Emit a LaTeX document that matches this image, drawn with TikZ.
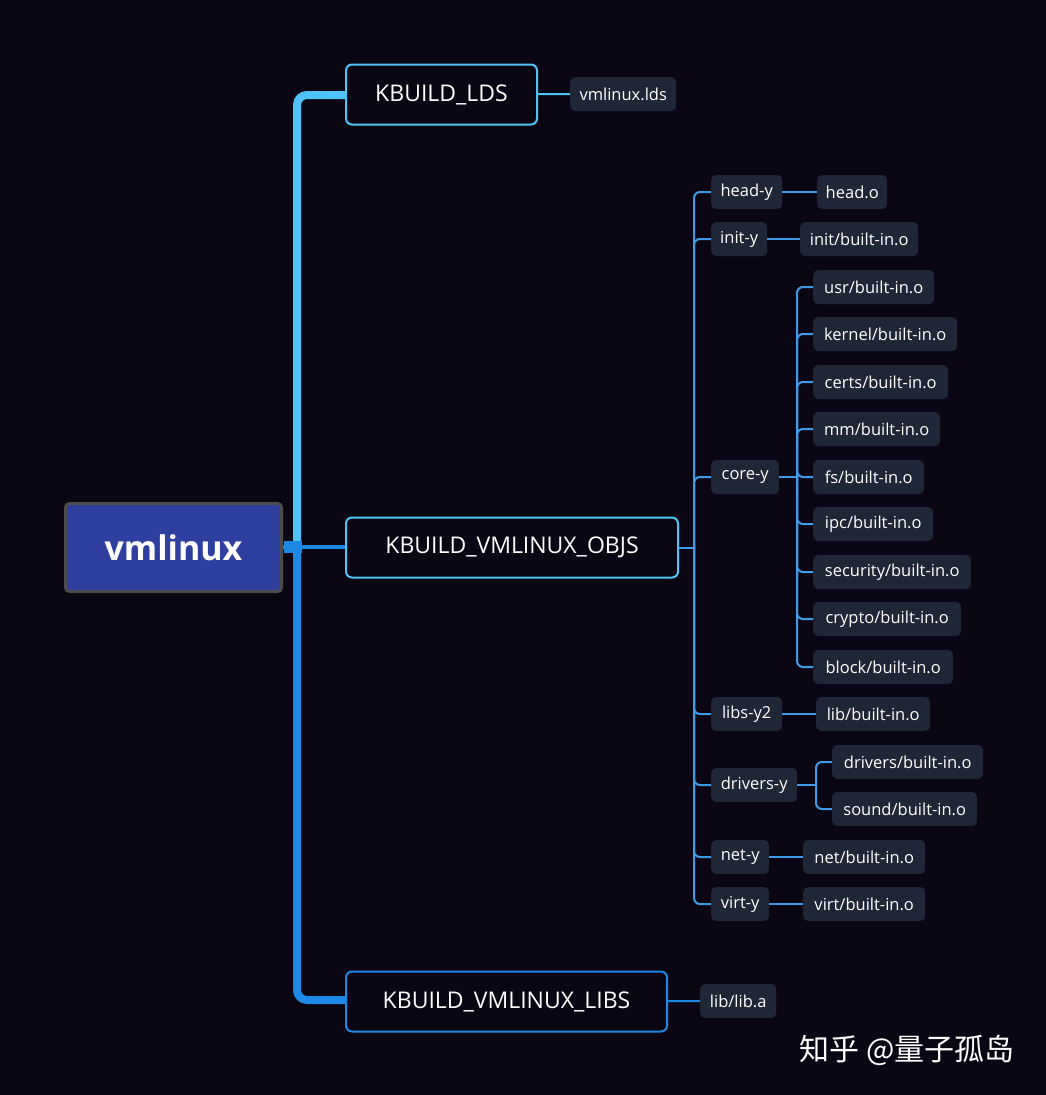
\documentclass[tikz,border=0pt]{standalone}
\usepackage{fontspec}
\setmainfont{Open Sans}
\newfontfamily\cjk{Noto Sans CJK SC}
\definecolor{bg}{HTML}{0A0614}
\definecolor{rootc}{HTML}{2F3FA0}
\definecolor{lite}{HTML}{4FC3F7}
\definecolor{deep}{HTML}{1E88E5}
\definecolor{leaf}{HTML}{1F2636}
\definecolor{lnk}{HTML}{3E9BEA}
\begin{document}
\begin{tikzpicture}[x=1pt,y=-1pt,
  leafn/.style={anchor=west,fill=leaf,rounded corners=5pt,minimum height=34pt,minimum width=#1pt,inner xsep=2pt,inner ysep=0pt,text=white,font=\fontsize{16.5}{18}\selectfont},
  lvl/.style={anchor=west,draw=#1,line width=2pt,fill=bg,rounded corners=6pt,minimum height=60pt,inner xsep=2pt,text=white,font=\fontsize{23}{25}\selectfont},
  ln/.style={draw=lnk,line width=2pt,rounded corners=6pt}]
\fill[bg] (0,0) rectangle (1046,1095);
% trunk
\draw[lite,line width=8pt,rounded corners=10pt] (345,95) -- (297,95) -- (297,547);
\draw[deep,line width=8pt,rounded corners=10pt] (297,547) -- (297,1000) -- (345,1000);
\draw[deep,line width=4pt] (282,547) -- (345,547);
\fill[deep] (284,541) rectangle (302,553);
\node[draw=black!70!white,line width=3pt,fill=rootc,rounded corners=4pt,minimum width=216pt,minimum height=88pt,text=white,font=\fontsize{34}{36}\selectfont\bfseries] (root) at (173.5,547.5) {vmlinux};
\node[lvl=lite,minimum width=191pt] (lds) at (345,94.5) {KBUILD\_LDS};
\node[lvl=lite,minimum width=332pt] (objs) at (345,547.5) {KBUILD\_VMLINUX\_OBJS};
\node[lvl=deep,minimum width=321pt] (libs) at (345,1001.5) {KBUILD\_VMLINUX\_LIBS};
\node[leafn=106] (lds1) at (570,94) {vmlinux.lds};
\node[leafn=76] (lib1) at (700,1001) {lib/lib.a};
\draw[lite,line width=2pt] (lds) -- (lds1);
\draw[deep,line width=2pt] (libs) -- (lib1);
% objs children
\foreach \n/\t/\y/\w in {hy/head-y/192/71,iy/init-y/239/56,cy/core-y/477/68,ly/libs-y2/714/71,dy/drivers-y/785/86,ny/net-y/857/58,vy/virt-y/904/58}{
  \node[leafn=\w] (\n) at (711,\y) {\t};
}
\coordinate (ob) at (694,547.5);
\draw[ln] (objs.east) -- (ob);
\foreach \n in {hy,iy,cy,ly,dy,ny,vy}{\draw[ln] (ob) |- (\n.west);}
\node[leafn=70] (ho) at (817,192) {head.o};
\node[leafn=118] (io) at (800,239) {init/built-in.o};
\node[leafn=114] (lo) at (816,714) {lib/built-in.o};
\node[leafn=122] (no) at (803,857) {net/built-in.o};
\node[leafn=122] (vo) at (803,904) {virt/built-in.o};
\draw[ln] (hy) -- (ho); \draw[ln] (iy) -- (io); \draw[ln] (ly) -- (lo);
\draw[ln] (ny) -- (no); \draw[ln] (vy) -- (vo);
\coordinate (cb) at (797,477);
\draw[ln] (cy.east) -- (cb);
\foreach \n/\t/\y/\w in {c1/usr/287/121,c2/kernel/334/144,c3/certs/382/135,c4/mm/429/127,c5/fs/477/111,c6/ipc/524/120,c7/security/572/158,c8/crypto/619/148,c9/block/667/140}{
  \node[leafn=\w] (\n) at (813,\y) {\t/built-in.o};
  \draw[ln] (cb) |- (\n.west);
}
\coordinate (db) at (816,785);
\draw[ln] (dy.east) -- (db);
\node[leafn=151] (d1) at (832,762) {drivers/built-in.o};
\node[leafn=145] (d2) at (832,809) {sound/built-in.o};
\draw[ln] (db) |- (d1.west); \draw[ln] (db) |- (d2.west);
\node[anchor=east,text=white,font=\cjk\fontsize{30}{32}\selectfont] (wm) at (1018,1050) {知乎 @量子孤岛};
\end{tikzpicture}
\end{document}
